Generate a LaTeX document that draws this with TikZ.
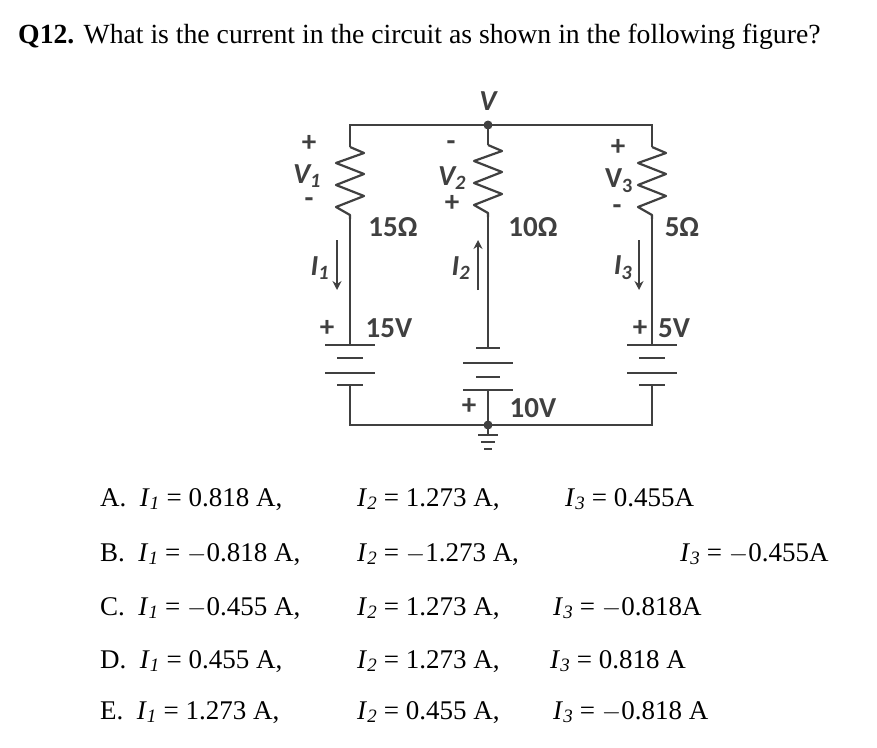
\documentclass[tikz,border=0pt]{standalone}
\usetikzlibrary{arrows.meta}
\usepackage{fontspec}
\setmainfont{Liberation Serif}
\newfontfamily\cf{Carlito}
\begin{document}
\begin{tikzpicture}[x=1pt,y=-1pt,
  w/.style={line width=2.2pt,color=black!75},
  lab/.style={font=\cf\bfseries\fontsize{29}{29}\selectfont,text=black!75,inner sep=0},
  ans/.style={font=\fontsize{27}{27}\selectfont,anchor=base west,inner sep=0},
  plate/.style={line width=2.6pt,color=black!75}]
\useasboundingbox (0,0) rectangle (877,747);
\node[anchor=base west,inner sep=0,font=\fontsize{27.7}{28}\selectfont] (t) at (18,43) {\textbf{Q12.} What is the current in the circuit as shown in the following figure?};
% nodes
\coordinate (TL) at (350,125); \coordinate (TM) at (488,125); \coordinate (TR) at (652,125);
\coordinate (BL) at (350,425); \coordinate (BM) at (488,425); \coordinate (BR) at (652,425);
% wires
\draw[w] (350,147) -- (TL) -- (TR) -- (652,147);
\draw[w] (TM) -- (488,145);
\draw[w] (350,385) -- (BL) -- (BR) -- (652,385);
\draw[w] (488,390) -- (BM);
\fill[black!75] (TM) circle (4.5) (BM) circle (4.5);
% resistors
\foreach \x/\a in {350/147,488/145,652/147}{
 \draw[w,line join=round] (\x,\a) -- (\x+14,\a+6) -- (\x-14,\a+16) -- (\x+14,\a+27) -- (\x-14,\a+38) -- (\x+14,\a+49) -- (\x-14,\a+60) -- (\x,\a+68) -- (\x,\a+72);}
\draw[w] (350,217) -- (350,345);
\draw[w] (488,217) -- (488,348);
\draw[w] (652,217) -- (652,345);
% batteries left/right
\foreach \x in {350,652}{
 \draw[plate] (\x-25,345) -- (\x+25,345);
 \draw[plate] (\x-13,358) -- (\x+13,358);
 \draw[plate] (\x-25,373) -- (\x+25,373);
 \draw[plate] (\x-13,385) -- (\x+13,385);}
\draw[plate] (476,348) -- (500,348);
\draw[plate] (463,363) -- (513,363);
\draw[plate] (476,377) -- (500,377);
\draw[plate] (463,390) -- (513,390);
% ground
\draw[w] (BM) -- (488,435);
\draw[plate,line width=2pt] (478,435) -- (498,435);
\draw[plate,line width=2pt] (481,442) -- (495,442);
\draw[plate,line width=2pt] (484,449) -- (492,449);
% current arrows
\draw[w,line width=2pt,-{Stealth[length=9pt,width=9pt]}] (337,240) -- (337,290);
\draw[w,line width=2pt,-{Stealth[length=9pt,width=9pt]}] (478,290) -- (478,240);
\draw[w,line width=2pt,-{Stealth[length=9pt,width=9pt]}] (639,240) -- (639,290);
% labels
\node[lab] (v) at (488,101) {\itshape V};
\node[lab] (p1) at (309,143) {+};
\node[lab] (v1) at (307,176) {\itshape V\textsubscript{1}};
\node[lab] (m1) at (309,203) {-};
\node[lab] (m2) at (451,146) {-};
\node[lab] (v2) at (452,178) {\itshape V\textsubscript{2}};
\node[lab] (p2) at (452,203) {+};
\node[lab] (p3) at (618,147) {+};
\node[lab] (v3) at (619,181) {V\textsubscript{3}};
\node[lab] (m3) at (617,210) {-};
\node[lab] (r1) at (393,227) {15Ω};
\node[lab] (r2) at (533,227) {10Ω};
\node[lab] (r3) at (682,227) {5Ω};
\node[lab] (i1) at (320,268) {\itshape I\textsubscript{1}};
\node[lab] (i2) at (461,268) {\itshape I\textsubscript{2}};
\node[lab] (i3) at (623,268) {\itshape I\textsubscript{3}};
\node[lab] (b1p) at (327,328) {+};
\node[lab] (b1) at (389,328) {15V};
\node[lab] (b3p) at (640,328) {+};
\node[lab] (b3) at (674,328) {5V};
\node[lab] (b2p) at (469,406) {+};
\node[lab] (b2) at (533,408) {10V};
% answers
\newcommand\II[1]{\textit{I}\textsubscript{\textit{#1}}}
\node[ans] (a1) at (100,506) {A.\ \ \II1 = 0.818 A,};
\node[ans] (a2) at (357,506) {\II2 = 1.273 A,};
\node[ans] (a3) at (565,506) {\II3 = 0.455A};
\node[ans] (b1a) at (100,561) {B.\ \ \II1 = $-$0.818 A,};
\node[ans] (b2a) at (357,561) {\II2 = $-$1.273 A,};
\node[ans] (b3a) at (680,561) {\II3 = $-$0.455A};
\node[ans] (c1) at (100,615) {C.\ \ \II1 = $-$0.455 A,};
\node[ans] (c2) at (357,615) {\II2 = 1.273 A,};
\node[ans] (c3) at (553,615) {\II3 = $-$0.818A};
\node[ans] (d1) at (100,668) {D.\ \ \II1 = 0.455 A,};
\node[ans] (d2) at (357,668) {\II2 = 1.273 A,};
\node[ans] (d3) at (550,668) {\II3 = 0.818 A};
\node[ans] (e1) at (100,719) {E.\ \ \II1 = 1.273 A,};
\node[ans] (e2) at (357,719) {\II2 = 0.455 A,};
\node[ans] (e3) at (553,719) {\II3 = $-$0.818 A};
\end{tikzpicture}
\end{document}
